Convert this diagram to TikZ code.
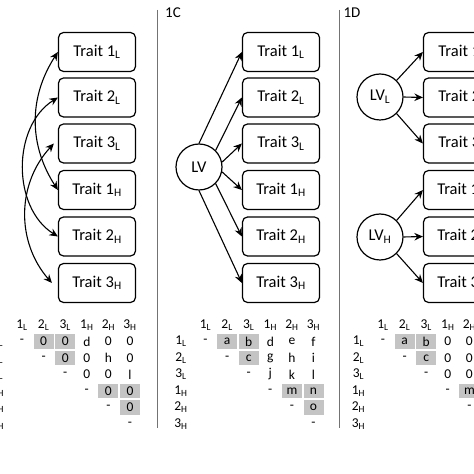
\documentclass[tikz,border=0pt]{standalone}
\usepackage{fontspec}
\setmainfont{Carlito}
\usetikzlibrary{arrows.meta}
\definecolor{shadegray}{RGB}{196,196,196}
\begin{document}
\begin{tikzpicture}[x=1pt,y=1pt,
 trait/.style={draw, line width=1.2pt, rounded corners=5pt, minimum width=77pt, minimum height=39pt, font=\fontsize{16.5}{18}\selectfont, inner sep=0pt},
 lv/.style={draw, circle, line width=1.2pt, minimum size=46pt, inner sep=0pt, font=\fontsize{16.5}{18}\selectfont},
 arr/.style={line width=1.1pt, -{Stealth[length=8.5pt,width=7.5pt]}},
 darr/.style={line width=1.1pt, {Stealth[length=8.5pt,width=7.5pt]}-{Stealth[length=8.5pt,width=7.5pt]}},
 sep/.style={line width=1.5pt, draw=black!55},
 cell/.style={font=\fontsize{13.5}{15}\selectfont, inner sep=0pt, anchor=center},
 shadecell/.style={cell, fill=shadegray, minimum width=20pt, minimum height=14.5pt},
 paneltitle/.style={font=\fontsize{15}{17}\selectfont, inner sep=0pt}
]
\useasboundingbox (0,0) rectangle (474,474);
\clip (0,0) rectangle (474,474);
\fill[white] (0,0) rectangle (474,474);

% separators and titles
\coordinate (s1t) at (157.5,464); \coordinate (s1b) at (157.5,46);
\coordinate (s2t) at (339.5,464); \coordinate (s2b) at (339.5,46);
\draw[sep] (s1t) -- (s1b);
\draw[sep] (s2t) -- (s2b);
\node[paneltitle] (t1C) at (173,461) {1C};
\node[paneltitle] (t1D) at (352,461) {1D};

% boxes
\foreach \nm/\px in {A/97, B/281, C/462}{
  \node[trait] (\nm1) at (\px,422) {Trait 1\textsubscript{L}};
  \node[trait] (\nm2) at (\px,376.5) {Trait 2\textsubscript{L}};
  \node[trait] (\nm3) at (\px,330.5) {Trait 3\textsubscript{L}};
  \node[trait] (\nm4) at (\px,284) {Trait 1\textsubscript{H}};
  \node[trait] (\nm5) at (\px,237.5) {Trait 2\textsubscript{H}};
  \node[trait] (\nm6) at (\px,191) {Trait 3\textsubscript{H}};
}

% panel A: correlated residuals
\draw[darr] (A1.west) to[bend right=33] (A4.west);
\draw[darr] (A2.west) to[bend right=58] (A5.west);
\draw[darr] ([xshift=-4pt]A3.west) to[bend right=42] ([xshift=-6pt]A6.west);

% panel B: single latent variable
\node[lv] (LV) at (199,307) {LV};
\draw[arr] (LV.90) -- (B1.west);
\draw[arr] (LV.45) -- (B2.west);
\draw[arr] (LV.12) -- (B3.west);
\draw[arr] (LV.-12) -- (B4.west);
\draw[arr] (LV.-45) -- (B5.west);
\draw[arr] (LV.-90) -- (B6.west);

% panel C: two latent variables
\node[lv] (LVL) at (380,377) {LV\textsubscript{L}};
\node[lv] (LVH) at (380,237) {LV\textsubscript{H}};
\draw[arr] (LVL.45) -- (C1.west);
\draw[arr] (LVL.east) -- (C2.west);
\draw[arr] (LVL.-45) -- (C3.west);
\draw[arr] (LVH.45) -- (C4.west);
\draw[arr] (LVH.east) -- (C5.west);
\draw[arr] (LVH.-45) -- (C6.west);

% tables: headers and row labels
\foreach \tb/\x in {P/22, Q/205.5, R/383}{
  \foreach \i/\lab in {1/1\textsubscript{L}, 2/2\textsubscript{L}, 3/3\textsubscript{L}, 4/1\textsubscript{H}, 5/2\textsubscript{H}, 6/3\textsubscript{H}}{
    \node[cell] (\tb h\i) at ({\x+21.6*(\i-1)},149) {\lab};
    \node[cell] (\tb r\i) at ({\x-24.5},{149-16.5*\i}) {\lab};
  }
}

% table P (left)
\foreach \r/\c/\t in {1/1/-, 1/4/d, 1/5/0, 1/6/0, 2/2/-, 2/4/0, 2/5/h, 2/6/0, 3/3/-, 3/4/0, 3/5/0, 3/6/l, 4/4/-, 5/5/-, 6/6/-}
  \node[cell] (P\r c\c) at ({22+21.6*(\c-1)},{149-16.5*\r}) {\t};
\foreach \r/\c/\t in {1/2/0, 1/3/0, 2/3/0, 4/5/0, 4/6/0, 5/6/0}
  \node[shadecell] (P\r c\c) at ({22+21.6*(\c-1)},{149-16.5*\r}) {\t};

% table Q (middle)
\foreach \r/\c/\t in {1/1/-, 1/4/d, 1/5/e, 1/6/f, 2/2/-, 2/4/g, 2/5/h, 2/6/i, 3/3/-, 3/4/j, 3/5/k, 3/6/l, 4/4/-, 5/5/-, 6/6/-}
  \node[cell] (Q\r c\c) at ({205.5+21.6*(\c-1)},{149-16.5*\r}) {\t};
\foreach \r/\c/\t in {1/2/a, 1/3/b, 2/3/c, 4/5/m, 4/6/n, 5/6/o}
  \node[shadecell] (Q\r c\c) at ({205.5+21.6*(\c-1)},{149-16.5*\r}) {\t};

% table R (right)
\foreach \r/\c/\t in {1/1/-, 1/4/0, 1/5/0, 1/6/0, 2/2/-, 2/4/0, 2/5/0, 2/6/0, 3/3/-, 3/4/0, 3/5/0, 3/6/0, 4/4/-, 5/5/-, 6/6/-}
  \node[cell] (R\r c\c) at ({383+21.6*(\c-1)},{149-16.5*\r}) {\t};
\foreach \r/\c/\t in {1/2/a, 1/3/b, 2/3/c, 4/5/m, 4/6/n, 5/6/o}
  \node[shadecell] (R\r c\c) at ({383+21.6*(\c-1)},{149-16.5*\r}) {\t};
\end{tikzpicture}
\end{document}
